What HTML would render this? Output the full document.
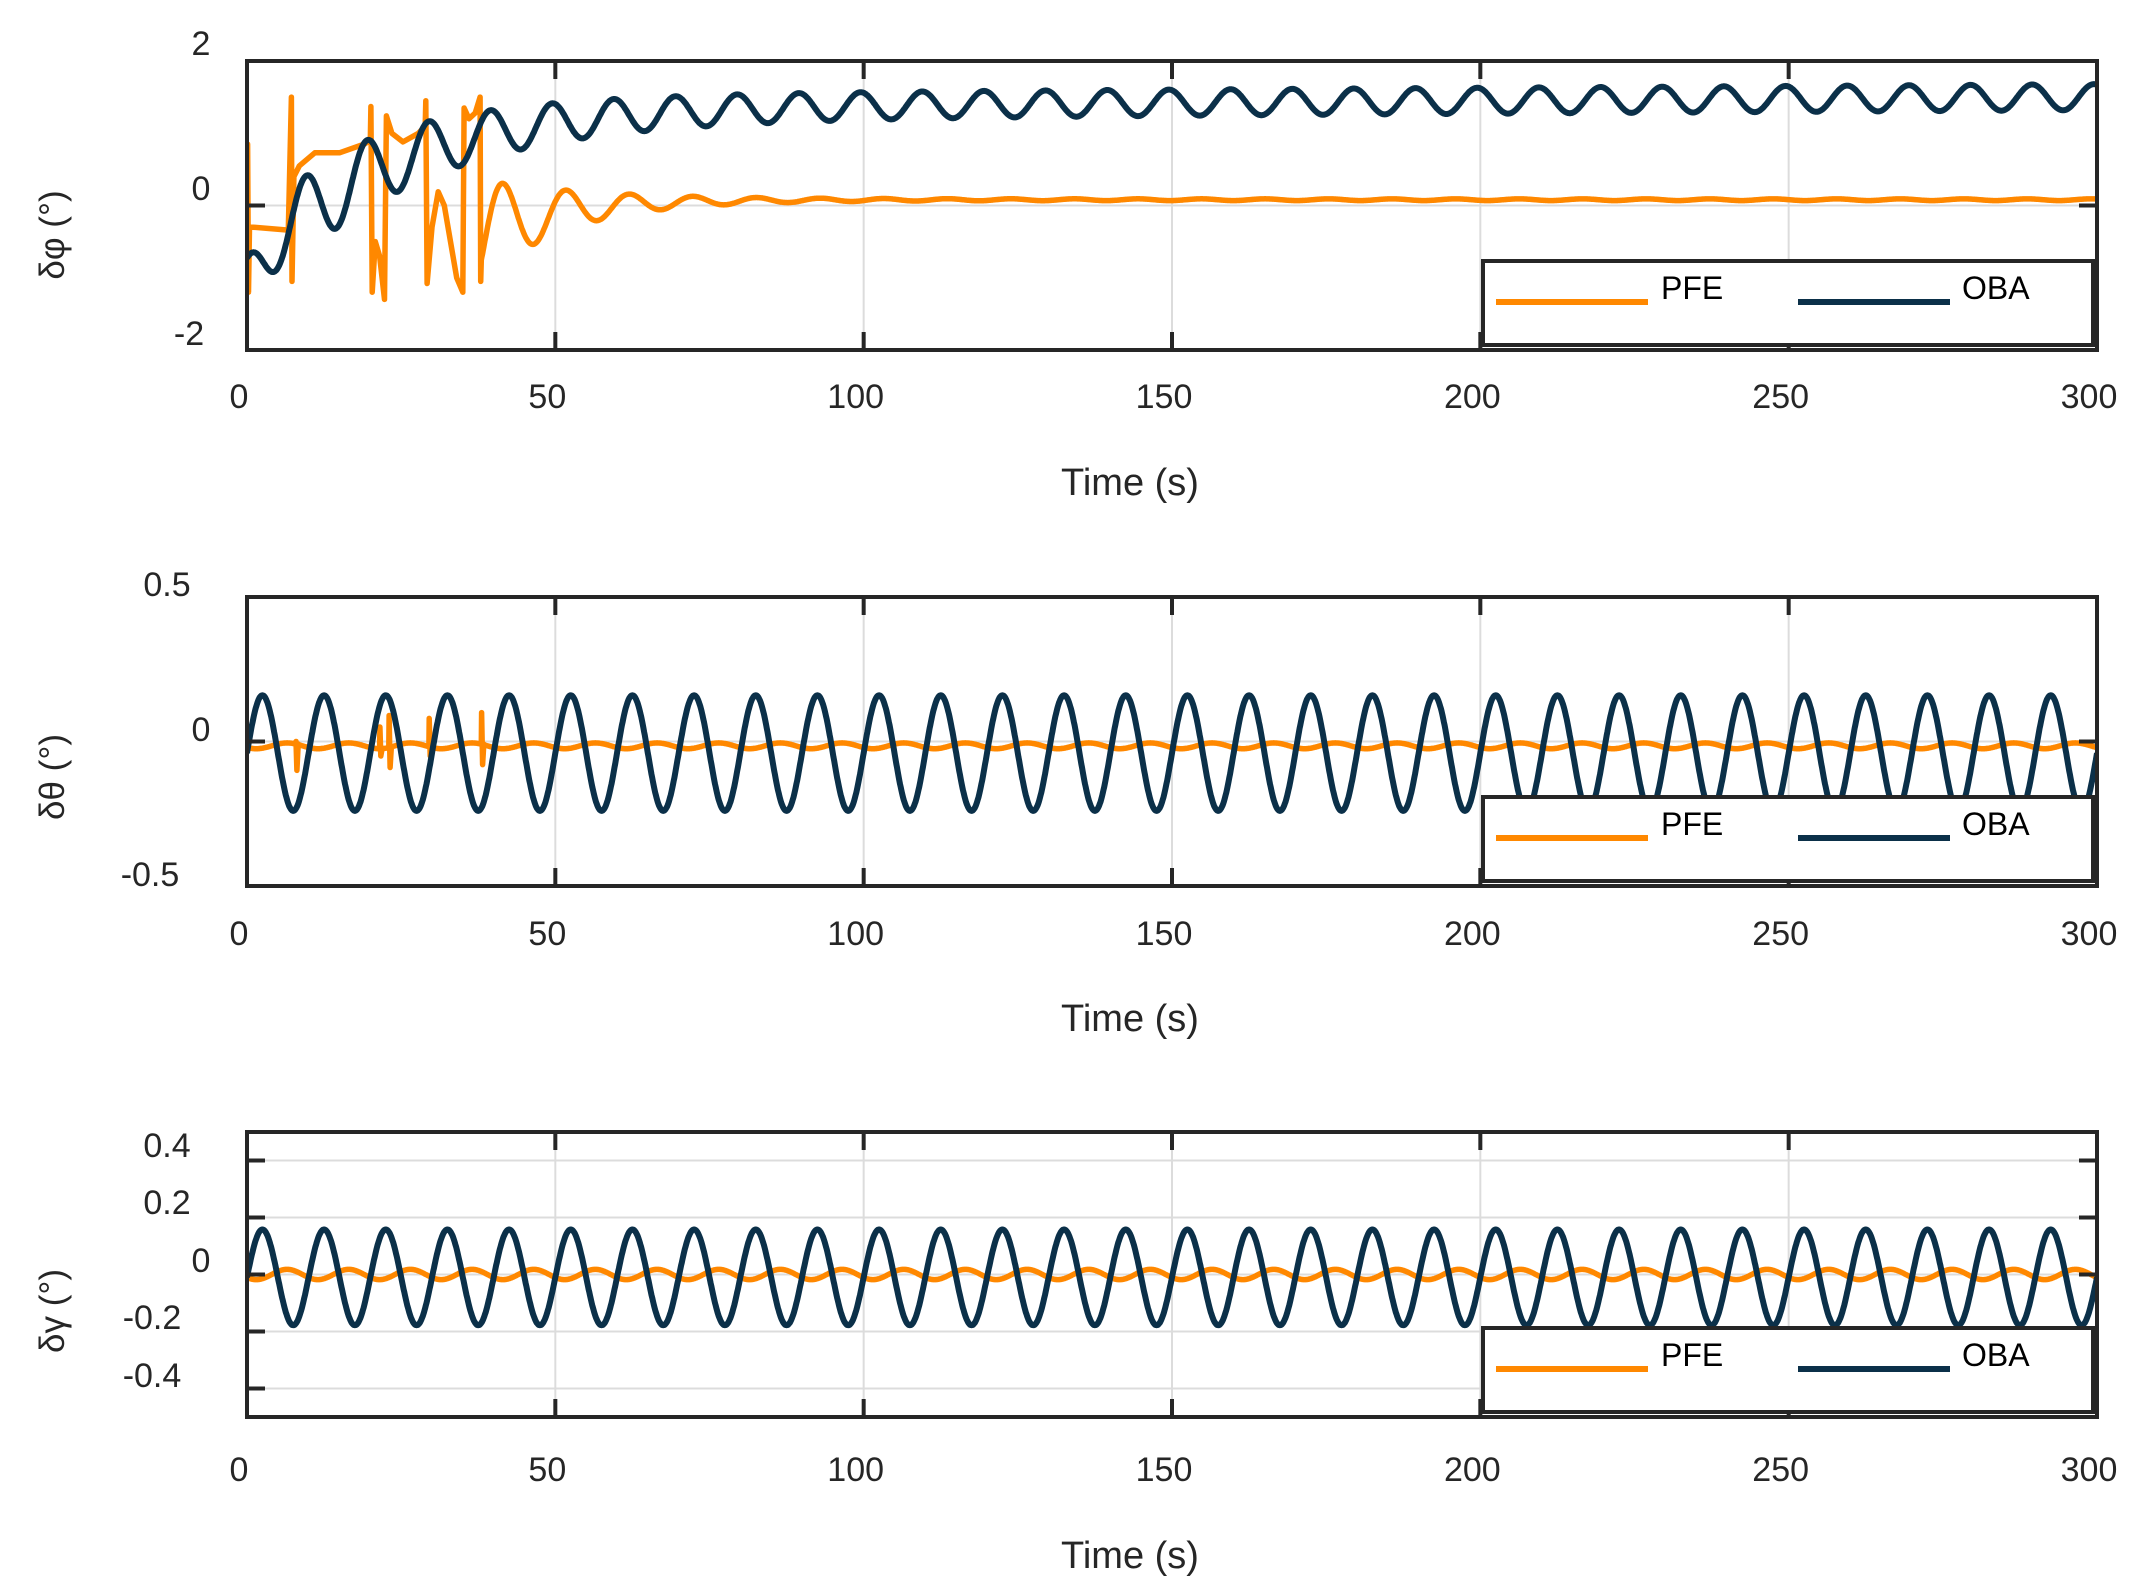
<!DOCTYPE html>
<html><head><meta charset="utf-8"><style>
html,body{margin:0;padding:0;background:#fff;}
svg{display:block;font-family:"Liberation Sans",Arial,sans-serif;}
</style></head><body>
<svg id="s" width="2134" height="1590" viewBox="0 0 2134 1590" xmlns="http://www.w3.org/2000/svg">
<defs>
<clipPath id="c1"><rect x="247" y="61" width="1850" height="289"/></clipPath>
<clipPath id="c2"><rect x="247" y="597" width="1850" height="289"/></clipPath>
<clipPath id="c3"><rect x="247" y="1132" width="1850" height="285"/></clipPath>
</defs>
<g id="grid" stroke="#dcdcdc" stroke-width="2"></g>
<g id="data"></g>
<g id="axes" fill="none" stroke="#262626" stroke-width="4"></g>
<g id="txt" fill="#262626" font-size="34"></g>
</svg>
<script>
var NS="http://www.w3.org/2000/svg";
function el(p,tag,a,txt){var e=document.createElementNS(NS,tag);for(var k in a)e.setAttribute(k,a[k]);if(txt!==undefined)e.textContent=txt;document.getElementById(p).appendChild(e);return e;}
var L=247,R=2097;function X(t){return L+t*(R-L)/300;}
var P=[{top:61,bot:350,y0:205.5,k:72.25,yt:[0],lab:[["2",201,55],["0",201,200],["-2",189,345]],yl:"δφ (°)",lg:{y:261}},
{top:597,bot:886,y0:741.5,k:289,yt:[0],lab:[["0.5",167,596],["0",201,741],["-0.5",150,886]],yl:"δθ (°)",lg:{y:797}},
{top:1132,bot:1417,y0:1274.5,k:285,yt:[0.4,0.2,0,-0.2,-0.4],lab:[["0.4",167,1157],["0.2",167,1214],["0",201,1272],["-0.2",152,1329],["-0.4",152,1387]],yl:"δγ (°)",lg:{y:1328}}];
var yl=[235,777,1311],tl=[484,1020,1557],xl=[396,933,1469];
function pfe1(){var pts=[[0,-1.2],[0.1,0.85],[0.25,-1.2],[0.4,-0.3],[1,-0.3],[6.7,-0.34],[7.2,1.5],[7.3,-1.05],[7.6,0.4],[8.5,0.55],[11,0.73],[15,0.73],[19,0.85],[20,0.9],[20.1,1.37],[20.3,-1.2],[20.8,-0.5],[21.5,-0.7],[22.3,-1.3],[22.6,1.24],[23.5,1.0],[25.3,0.88],[27.8,1.0],[28.9,1.1],[29,1.45],[29.2,-1.08],[30,-0.3],[31,0.19],[32,0.0],[33,-0.5],[34,-1.0],[35,-1.2],[35.2,1.35],[36,1.2],[37,1.28],[37.8,1.5],[37.9,-1.05]];
for(var t=38;t<=300;t+=0.1){var v=0.08-0.45*Math.exp(-(t-38)/12)+(0.55*Math.exp(-(t-41.5)/14)+0.012)*Math.cos(2*Math.PI*(t-41.5)/10.3);pts.push([t,v]);}return pts;}
function oba1(){var p=[];for(var t=0;t<=300;t+=0.1){var b=1.35+0.0005*t-2.25*Math.exp(-t/22);var a=0.18+0.7*Math.exp(-t/25)*(1-Math.exp(-t/8));p.push([t,b+a*Math.sin(2*Math.PI*(t-7)/10)]);}return p;}
function oba(c,a){var p=[];for(var t=0;t<=300;t+=0.1)p.push([t,c+a*Math.sin(2*Math.PI*t/10)]);return p;}
function pfe(c,a,sp){var p=[];var si=0;for(var t=0;t<=300;t+=0.1){var v=c+a*Math.sin(2*Math.PI*(t-4)/10);if(si<sp.length&&t>=sp[si][0]){p.push([t,v]);p.push([t+0.05,sp[si][1]]);p.push([t+0.2,sp[si][2]]);p.push([t+0.4,v]);si++;}p.push([t,v]);}return p;}
var series=[[pfe1(),oba1()],[pfe(-0.015,0.01,[[7.8,0.0,-0.1],[21.5,0.05,-0.05],[23,0.09,-0.09],[29.5,0.08,-0.05],[38,0.1,-0.08]]),oba(-0.04,0.2)],[pfe(0.0,0.018,[]),oba(-0.01,0.168)]];
P.forEach(function(p,i){
 [50,100,150,200,250].forEach(function(t){el("grid","line",{x1:X(t),x2:X(t),y1:p.top,y2:p.bot});});
 p.yt.forEach(function(v){var y=p.y0-p.k*v;el("grid","line",{x1:L,x2:R,y1:y,y2:y});});
 var cols=["#ff8800","#0b3049"];
 series[i].forEach(function(s,j){var d="";s.forEach(function(q,n){d+=(n?"L":"M")+X(q[0]).toFixed(1)+" "+(p.y0-p.k*q[1]).toFixed(1);});
  el("data","path",{d:d,fill:"none",stroke:cols[j],"stroke-width":j?6:5.5,"stroke-linejoin":"round","clip-path":"url(#c"+(i+1)+")"});});
 el("axes","rect",{x:L,y:p.top,width:R-L,height:p.bot-p.top});
 [50,100,150,200,250].forEach(function(t){el("axes","line",{x1:X(t),x2:X(t),y1:p.top,y2:p.top+18});el("axes","line",{x1:X(t),x2:X(t),y1:p.bot,y2:p.bot-18});});
 p.yt.forEach(function(v){var y=p.y0-p.k*v;el("axes","line",{x1:L,x2:L+18,y1:y,y2:y});el("axes","line",{x1:R,x2:R-18,y1:y,y2:y});});
 var ly=p.lg.y;el("axes","rect",{x:1483,y:ly,width:610,height:84,fill:"#fff","stroke-width":4});
 el("axes","line",{x1:1496,x2:1648,y1:ly+41,y2:ly+41,stroke:"#ff8800","stroke-width":6});
 el("axes","line",{x1:1798,x2:1950,y1:ly+41,y2:ly+41,stroke:"#0b3049","stroke-width":6});
 el("txt","text",{x:1661,y:ly+38,"font-size":32,fill:"#000"},"PFE");
 el("txt","text",{x:1962,y:ly+38,"font-size":32,fill:"#000"},"OBA");
 p.lab.forEach(function(l){el("txt","text",{x:l[1],y:l[2],"text-anchor":"middle"},l[0]);});
 [0,50,100,150,200,250,300].forEach(function(t){el("txt","text",{x:X(t)-8,y:xl[i]+12,"text-anchor":"middle"},String(t));});
 el("txt","text",{x:1130,y:tl[i]+11,"text-anchor":"middle","font-size":38},"Time (s)");
 el("txt","text",{x:0,y:0,"text-anchor":"middle","font-size":35,transform:"translate(64,"+yl[i]+") rotate(-90)"},p.yl);
});
</script>
</body></html>
